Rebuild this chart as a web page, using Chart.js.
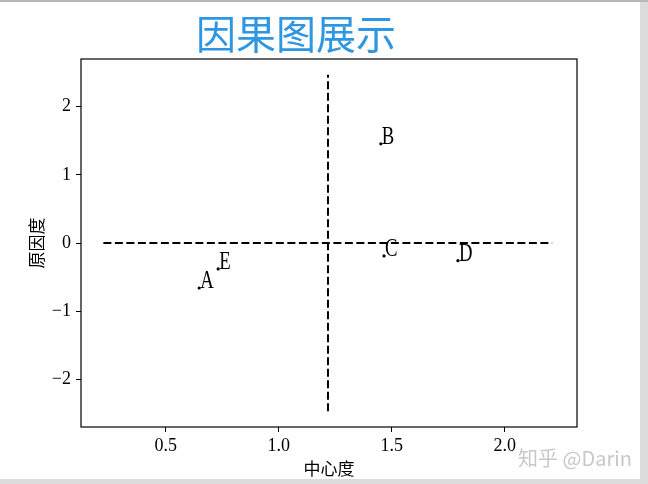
<!DOCTYPE html>
<html>
<head>
<meta charset="utf-8">
<script src="https://cdn.jsdelivr.net/npm/chart.js@4"></script>
<style>
  html, body { margin: 0; padding: 0; background: #fff; }
  #wrap { width: 648px; height: 484px; }
</style>
</head>
<body>
<div id="wrap"><canvas id="myChart" width="648" height="484"></canvas></div>
<script>
// data
const names = ['A', 'B', 'C', 'D', 'E'];
const centrality = [0.648, 1.452, 1.466, 1.793, 0.732];   // 中心度
const causality = [-0.66, 1.456, -0.19, -0.26, -0.38];   // 原因度
const xTicks = [0.5, 1.0, 1.5, 2.0];
const yTicks = [-2, -1, 0, 1, 2];

// dashed quadrant lines
const meanX = 1.218;
const hLineX = [0.224, 2.21];
const vLineY = [-2.47, 2.47];

const points = names.map((n, i) => ({ x: centrality[i], y: causality[i] }));

// frame, box, point labels, title and watermark
const decor = {
  id: 'decor',
  beforeDraw(chart) {
    const ctx = chart.ctx;
    ctx.save();
    ctx.fillStyle = '#dcdcdc';
    ctx.fillRect(0, 0, 648, 484);
    ctx.fillStyle = '#b8b8b8';
    ctx.fillRect(0, 0, 648, 2);
    ctx.fillStyle = '#ffffff';
    ctx.fillRect(0, 2, 640, 477);
    ctx.restore();
  },
  afterDraw(chart) {
    const ctx = chart.ctx;
    const a = chart.chartArea;
    const xs = chart.scales.x, ys = chart.scales.y;
    ctx.save();
    ctx.strokeStyle = '#000';
    ctx.lineWidth = 1.2;
    ctx.strokeRect(a.left, a.top, a.right - a.left, a.bottom - a.top);

    // point labels, narrow serif like the original
    ctx.fillStyle = '#000';
    ctx.font = '26px "Liberation Serif"';
    ctx.textAlign = 'left';
    ctx.textBaseline = 'alphabetic';
    names.forEach((n, i) => {
      const px = xs.getPixelForValue(centrality[i]);
      const py = ys.getPixelForValue(causality[i]);
      ctx.save();
      ctx.translate(px + 1, py);
      ctx.scale(0.72, 1);
      ctx.fillText(n, 0, 0);
      ctx.restore();
    });

    ctx.fillStyle = '#2f97e1';
    ctx.font = '40px "Noto Sans CJK SC"';
    ctx.textAlign = 'center';
    ctx.textBaseline = 'middle';
    ctx.fillText('因果图展示', 296, 34);

    ctx.fillStyle = '#c8c8c8';
    ctx.font = '20px "Noto Sans CJK SC"';
    ctx.textAlign = 'left';
    ctx.fillText('知乎 @Darin', 518, 458);
    ctx.restore();
  }
};

const data = {
  datasets: [
    {
      type: 'scatter',
      data: points,
      pointRadius: 1.6,
      pointBackgroundColor: '#000',
      pointBorderWidth: 0
    },
    {
      type: 'line',
      data: [{ x: hLineX[0], y: 0 }, { x: hLineX[1], y: 0 }],
      borderColor: '#000',
      borderWidth: 2,
      borderDash: [8, 3.5],
      pointRadius: 0
    },
    {
      type: 'line',
      data: [{ x: meanX, y: vLineY[0] }, { x: meanX, y: vLineY[1] }],
      borderColor: '#000',
      borderWidth: 2,
      borderDash: [8, 3.5],
      pointRadius: 0
    }
  ]
};

const config = {
  type: 'scatter',
  data,
  options: {
    responsive: false,
    animation: false,
    layout: { padding: { left: 0, top: 59, right: 71, bottom: 0 } },
    plugins: { legend: { display: false }, tooltip: { enabled: false } },
    scales: {
      x: {
        type: 'linear',
        min: 0.125,
        max: 2.32,
        afterBuildTicks: s => { s.ticks = xTicks.map(v => ({ value: v })); },
        afterFit: s => { s.height = 57; },
        grid: { drawOnChartArea: false, drawTicks: true, tickLength: 5, color: '#000', tickWidth: 1 },
        border: { display: false },
        ticks: {
          color: '#000',
          padding: 3,
          font: { family: '"Liberation Serif"', size: 18 },
          callback: v => v.toFixed(1)
        },
        title: {
          display: true,
          text: '中心度',
          color: '#000',
          font: { family: '"Noto Sans CJK SC"', size: 17 },
          padding: { top: 0, bottom: 5 }
        }
      },
      y: {
        type: 'linear',
        min: -2.7,
        max: 2.7,
        afterBuildTicks: s => { s.ticks = yTicks.map(v => ({ value: v })); },
        afterFit: s => { s.width = 81; },
        grid: { drawOnChartArea: false, drawTicks: true, tickLength: 5, color: '#000', tickWidth: 1 },
        border: { display: false },
        ticks: {
          color: '#000',
          padding: 5,
          font: { family: '"Liberation Serif"', size: 18 },
          callback: v => (v < 0 ? '\u2212' + Math.abs(v) : String(v))
        },
        title: {
          display: true,
          text: '原因度',
          color: '#000',
          font: { family: '"Noto Sans CJK SC"', size: 17 },
          padding: { top: 26, bottom: 0 }
        }
      }
    }
  },
  plugins: [decor]
};

const myChart = new Chart(document.getElementById('myChart'), config);
</script>
</body>
</html>
